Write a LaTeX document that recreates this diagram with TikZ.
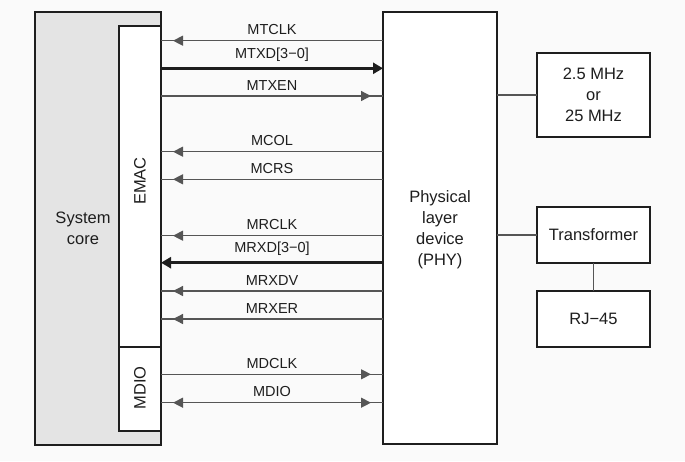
\documentclass[tikz,border=0pt]{standalone}
\usepackage{fontspec}
\setmainfont{Liberation Sans}
\usetikzlibrary{arrows.meta,decorations.markings,calc}
\definecolor{ink}{HTML}{1E1E1E}
\definecolor{wire}{HTML}{555555}
\definecolor{corefill}{HTML}{E4E4E4}
\tikzset{sigtip/.tip={Triangle[length=10pt,width=10pt]}}
\begin{document}
\begin{tikzpicture}[x=1pt,y=-1pt,
  box/.style={draw=ink,line width=2.2pt,anchor=north west,inner sep=0pt,outer sep=0pt,text=ink,align=center},
  boxtext/.style={font=\fontsize{16.5}{21}\selectfont,text=ink,align=center},
  lbl/.style={font=\fontsize{14.5}{17}\selectfont,text=ink},
  sig/.style={draw=wire,line width=1.3pt},
  bus/.style={draw=ink,line width=3pt},
  toright/.style={postaction={decorate},decoration={markings,mark=at position -12pt with {\arrow{sigtip}}}},
  toleft/.style={postaction={decorate},decoration={markings,mark=at position 12pt with {\arrowreversed{sigtip}}}},
  both/.style={postaction={decorate},decoration={markings,mark=at position 12pt with {\arrowreversed{sigtip}},mark=at position -12pt with {\arrow{sigtip}}}},
  link/.style={draw=wire,line width=1.3pt}]
\useasboundingbox[fill=white!98!black] (0,0) rectangle (685,461);
% blocks
\node[box,fill=corefill,minimum width=126pt,minimum height=433pt] (sys) at (35,12) {};
\node[box,fill=white,minimum width=42pt,minimum height=321pt] (emac) at (119,26) {};
\node[box,fill=white,minimum width=42pt,minimum height=84pt] (mdio) at (119,347) {};
\node[box,fill=white,minimum width=114pt,minimum height=432pt] (phy) at (383,12) {};
\node[box,fill=white,minimum width=113pt,minimum height=84pt] (clk) at (537,53) {};
\node[box,fill=white,minimum width=113pt,minimum height=56pt] (tr) at (537,207) {};
\node[box,fill=white,minimum width=113pt,minimum height=56pt] (rj) at (537,291) {};
% texts
\node[boxtext] (tsys) at (83,228) {System\\core};
\node[boxtext,rotate=90] (temac) at (140,181) {EMAC};
\node[boxtext,rotate=90] (tmdio) at (140,388) {MDIO};
\node[boxtext] (tphy) at (440,230) {Physical\\layer\\device\\(PHY)};
\node[boxtext] (tclk) at (clk.center) {2.5 MHz\\or\\25 MHz};
\node[boxtext] (ttr) at (tr.center) {Transformer};
\node[boxtext] (trj) at (rj.center) {RJ−45};
% side links
\draw[link] (phy.east |- clk.west) -- (clk.west);
\draw[link] (phy.east |- tr.west) -- (tr.west);
\draw[link] (tr.south) -- (rj.north);
% signals
\foreach \y/\name/\kind in {40.7/MTCLK/toleft,96/MTXEN/toright,151.7/MCOL/toleft,179.3/MCRS/toleft,235.7/MRCLK/toleft,291/MRXDV/toleft,319/MRXER/toleft}{
  \draw[sig,\kind] (emac.east |- 0,\y) -- (phy.west |- 0,\y) node[midway,above=2pt,lbl] {\name};
}
\draw[sig,toright] (mdio.east |- 0,374.3) -- (phy.west |- 0,374.3) node[midway,above=2pt,lbl] (lmdclk) {MDCLK};
\draw[sig,both] (mdio.east |- 0,402.7) -- (phy.west |- 0,402.7) node[midway,above=2pt,lbl] (lmdio) {MDIO};
\draw[bus,-{Triangle[length=10pt,width=11pt]}] (emac.east |- 0,68.3) -- (phy.west |- 0,68.3) node[midway,above=2pt,lbl] (lmtxd) {MTXD[3−0]};
\draw[bus,-{Triangle[length=10pt,width=11pt]}] (phy.west |- 0,262.7) -- (emac.east |- 0,262.7) node[midway,above=2pt,lbl] (lmrxd) {MRXD[3−0]};
\end{tikzpicture}
\end{document}
